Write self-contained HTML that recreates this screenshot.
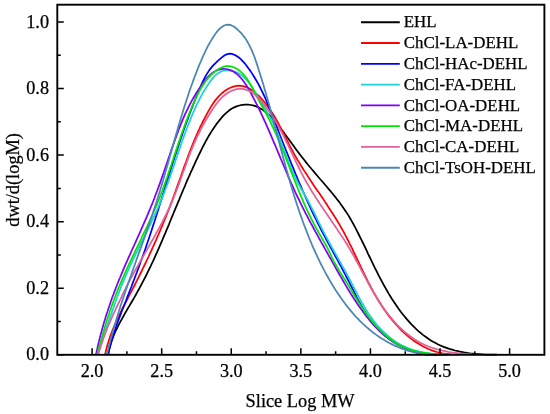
<!DOCTYPE html>
<html><head><meta charset="utf-8"><title>Slice Log MW</title>
<style>html,body{margin:0;padding:0;background:#fff}body{width:550px;height:414px;overflow:hidden}</style></head>
<body>
<svg width="550" height="414" viewBox="0 0 550 414" style="display:block">
<rect width="550" height="414" fill="#fff"/>
<g fill="none" stroke-width="1.75" stroke-linejoin="round" stroke-linecap="butt">
<path d="M108.2,354.6L108.8,351.6L109.5,348.7L110.3,345.8L111.1,342.9L112.0,340.1L113.0,337.3L114.1,334.5L115.3,331.7L116.6,329.0L117.9,326.4L119.3,323.7L120.7,321.1L122.2,318.4L123.7,315.8L125.1,313.2L126.6,310.6L128.1,308.0L129.7,305.4L131.2,302.8L132.7,300.2L134.2,297.6L135.7,295.0L137.1,292.4L138.6,289.8L140.0,287.1L141.4,284.5L142.8,281.9L144.2,279.2L145.6,276.5L146.9,273.8L148.2,271.2L149.5,268.5L150.8,265.8L152.1,263.0L153.4,260.3L154.6,257.6L155.8,254.9L157.1,252.1L158.3,249.4L159.5,246.6L160.7,243.9L161.9,241.1L163.0,238.4L164.2,235.6L165.4,232.9L166.5,230.1L167.7,227.3L168.9,224.6L170.0,221.8L171.1,219.0L172.3,216.2L173.4,213.5L174.6,210.7L175.7,207.9L176.9,205.1L178.0,202.4L179.2,199.6L180.3,196.8L181.5,194.0L182.6,191.3L183.8,188.5L185.0,185.8L186.1,183.0L187.3,180.2L188.5,177.5L189.7,174.8L190.9,172.0L192.2,169.3L193.4,166.6L194.7,163.8L195.9,161.1L197.2,158.4L198.5,155.7L199.8,153.0L201.1,150.3L202.4,147.7L203.8,145.0L205.2,142.4L206.6,139.7L208.1,137.1L209.6,134.5L211.2,131.9L212.8,129.4L214.5,126.9L216.2,124.4L218.1,122.0L220.0,119.6L222.0,117.2L224.1,114.9L226.3,112.8L228.7,110.8L231.1,109.0L233.7,107.6L236.5,106.4L239.3,105.5L242.2,104.9L245.2,104.6L248.2,104.6L251.1,105.0L254.0,105.6L256.8,106.6L259.5,107.9L262.1,109.4L264.6,111.2L267.0,113.1L269.3,115.2L271.6,117.5L273.7,119.9L275.8,122.3L277.8,124.8L279.8,127.3L281.7,129.7L283.5,132.1L285.2,134.5L287.0,136.9L288.7,139.2L290.4,141.5L292.0,143.8L293.7,146.1L295.4,148.4L297.1,150.7L298.9,153.1L300.6,155.4L302.5,157.7L304.3,160.0L306.1,162.4L308.0,164.7L309.9,167.0L311.8,169.3L313.8,171.6L315.7,173.9L317.7,176.2L319.6,178.5L321.6,180.8L323.6,183.0L325.5,185.3L327.5,187.6L329.4,189.9L331.4,192.2L333.3,194.5L335.2,196.9L337.0,199.2L338.9,201.6L340.6,204.0L342.4,206.4L344.1,208.9L345.8,211.4L347.4,213.9L349.0,216.4L350.5,219.0L352.0,221.7L353.5,224.3L354.9,226.9L356.3,229.6L357.7,232.3L359.0,235.0L360.3,237.7L361.7,240.3L363.0,243.0L364.3,245.7L365.6,248.4L366.9,251.1L368.1,253.8L369.4,256.5L370.7,259.2L372.0,261.9L373.3,264.6L374.6,267.3L375.9,269.9L377.3,272.6L378.6,275.3L380.0,277.9L381.4,280.6L382.8,283.2L384.2,285.8L385.7,288.4L387.2,291.0L388.7,293.6L390.3,296.2L391.8,298.7L393.5,301.3L395.2,303.8L396.9,306.3L398.6,308.8L400.4,311.2L402.3,313.7L404.2,316.0L406.1,318.4L408.1,320.6L410.1,322.9L412.2,325.1L414.3,327.2L416.5,329.3L418.7,331.3L420.9,333.2L423.2,335.1L425.6,336.8L428.0,338.5L430.5,340.2L433.0,341.7L435.6,343.1L438.2,344.5L440.9,345.7L443.7,346.9L446.5,347.9L449.3,348.9L452.2,349.7L455.1,350.5L458.1,351.2L461.0,351.8L464.0,352.4L467.0,352.9L470.0,353.3L473.1,353.6L476.1,353.9L479.1,354.1L482.2,354.3L485.2,354.5L488.2,354.5L491.1,354.6L494.1,354.6L497.0,354.6" stroke="#000000"/>
<path d="M105.1,354.6L105.7,351.6L106.4,348.7L107.2,345.8L108.1,342.9L109.0,340.1L109.9,337.3L110.9,334.4L112.0,331.7L113.1,328.9L114.2,326.1L115.4,323.4L116.6,320.7L117.9,318.0L119.2,315.3L120.5,312.6L121.8,309.9L123.1,307.2L124.5,304.6L125.9,301.9L127.3,299.3L128.6,296.6L130.0,293.9L131.4,291.3L132.8,288.6L134.2,286.0L135.5,283.3L136.9,280.6L138.2,277.9L139.6,275.2L140.9,272.5L142.2,269.9L143.5,267.2L144.8,264.5L146.1,261.8L147.4,259.0L148.7,256.3L149.9,253.6L151.2,250.9L152.4,248.2L153.7,245.4L154.9,242.7L156.1,240.0L157.3,237.2L158.5,234.5L159.7,231.7L160.8,229.0L162.0,226.2L163.1,223.5L164.3,220.7L165.4,218.0L166.5,215.2L167.6,212.4L168.7,209.7L169.8,206.9L170.8,204.1L171.9,201.3L172.9,198.5L173.9,195.8L174.9,193.0L175.9,190.2L176.9,187.4L177.9,184.6L178.9,181.8L179.9,179.0L180.9,176.2L181.9,173.4L182.9,170.6L183.8,167.8L184.8,165.0L185.9,162.3L186.9,159.5L187.9,156.7L189.0,153.9L190.0,151.1L191.1,148.4L192.2,145.6L193.3,142.8L194.4,140.1L195.6,137.3L196.8,134.6L198.0,131.8L199.3,129.1L200.5,126.4L201.9,123.7L203.2,121.0L204.6,118.3L206.0,115.6L207.5,112.9L209.0,110.2L210.5,107.6L212.1,105.0L213.8,102.4L215.7,99.9L217.6,97.6L219.7,95.3L221.9,93.2L224.4,91.3L227.0,89.5L229.8,88.0L232.6,86.9L235.5,86.1L238.4,85.7L241.2,85.8L243.9,86.3L246.6,87.2L249.2,88.4L251.7,90.0L254.2,91.8L256.5,93.8L258.8,95.9L261.0,98.2L263.1,100.5L265.0,102.8L266.9,105.2L268.7,107.7L270.4,110.2L272.1,112.7L273.7,115.2L275.2,117.8L276.7,120.4L278.1,123.0L279.5,125.6L280.9,128.3L282.3,130.9L283.6,133.6L284.9,136.2L286.2,138.9L287.6,141.5L288.9,144.2L290.3,146.8L291.7,149.5L293.1,152.1L294.5,154.7L296.0,157.3L297.5,159.9L299.1,162.4L300.6,165.0L302.2,167.5L303.8,170.1L305.4,172.6L307.1,175.1L308.7,177.6L310.4,180.2L312.1,182.7L313.7,185.2L315.4,187.7L317.1,190.2L318.8,192.6L320.5,195.1L322.2,197.6L323.9,200.1L325.5,202.6L327.2,205.1L328.8,207.7L330.5,210.2L332.1,212.7L333.7,215.2L335.3,217.8L336.9,220.3L338.4,222.9L339.9,225.4L341.4,228.0L342.9,230.6L344.3,233.2L345.7,235.9L347.1,238.5L348.4,241.1L349.7,243.8L351.1,246.4L352.4,249.1L353.6,251.8L354.9,254.5L356.2,257.1L357.5,259.8L358.7,262.5L360.0,265.2L361.3,267.9L362.6,270.6L363.9,273.3L365.2,275.9L366.5,278.6L367.8,281.3L369.2,284.0L370.6,286.6L372.0,289.3L373.4,291.9L374.9,294.5L376.4,297.1L378.0,299.7L379.6,302.3L381.2,304.9L382.9,307.4L384.6,309.9L386.4,312.4L388.2,314.9L390.0,317.3L391.9,319.7L393.8,322.0L395.8,324.3L397.8,326.5L399.9,328.7L402.0,330.8L404.2,332.9L406.4,334.9L408.7,336.8L411.0,338.6L413.3,340.4L415.7,342.0L418.2,343.6L420.7,345.1L423.2,346.5L425.8,347.8L428.5,349.0L431.2,350.1L434.0,351.1L436.8,352.0L439.7,352.7L442.6,353.3L445.6,353.8L448.6,354.2L451.7,354.4L454.8,354.5L458.0,354.5" stroke="#ff0000"/>
<path d="M108.0,354.6L108.6,351.7L109.3,348.7L110.1,345.8L110.9,342.9L111.7,340.1L112.6,337.2L113.5,334.4L114.4,331.5L115.4,328.7L116.4,325.9L117.4,323.0L118.4,320.2L119.5,317.4L120.5,314.6L121.6,311.8L122.7,309.0L123.8,306.2L124.9,303.5L126.0,300.7L127.0,297.9L128.1,295.1L129.2,292.3L130.3,289.5L131.4,286.7L132.4,283.9L133.5,281.1L134.6,278.3L135.6,275.5L136.7,272.7L137.7,269.9L138.8,267.1L139.8,264.2L140.8,261.4L141.9,258.6L142.9,255.8L143.9,253.0L144.9,250.2L145.9,247.3L146.8,244.5L147.8,241.7L148.8,238.8L149.7,236.0L150.6,233.2L151.6,230.3L152.5,227.5L153.4,224.6L154.4,221.8L155.3,218.9L156.2,216.1L157.1,213.2L158.0,210.4L158.9,207.5L159.8,204.6L160.7,201.8L161.6,198.9L162.5,196.1L163.3,193.2L164.2,190.4L165.1,187.5L166.0,184.6L166.9,181.8L167.8,178.9L168.7,176.1L169.6,173.2L170.5,170.3L171.4,167.5L172.3,164.6L173.2,161.8L174.1,158.9L175.0,156.1L176.0,153.2L176.9,150.4L177.8,147.5L178.8,144.7L179.7,141.8L180.7,139.0L181.7,136.1L182.6,133.3L183.6,130.5L184.6,127.6L185.6,124.8L186.6,122.0L187.7,119.2L188.7,116.3L189.7,113.5L190.8,110.7L191.9,107.9L193.0,105.1L194.1,102.3L195.2,99.5L196.3,96.7L197.5,93.9L198.6,91.2L199.8,88.4L201.0,85.6L202.2,82.9L203.5,80.2L204.9,77.5L206.3,74.9L207.9,72.4L209.5,69.9L211.3,67.6L213.2,65.4L215.3,63.3L217.5,61.2L219.8,59.2L222.2,57.1L224.7,55.3L227.3,54.1L230.1,53.7L232.9,54.2L235.6,55.4L238.2,57.0L240.5,58.9L242.6,61.1L244.7,63.3L246.6,65.7L248.4,68.2L250.2,70.6L251.8,73.1L253.5,75.7L255.0,78.2L256.5,80.8L258.0,83.4L259.4,86.0L260.7,88.7L262.1,91.3L263.3,94.0L264.6,96.7L265.8,99.4L266.9,102.2L268.1,104.9L269.2,107.7L270.3,110.4L271.4,113.2L272.5,116.0L273.6,118.8L274.7,121.5L275.8,124.3L276.9,127.1L278.0,129.9L279.1,132.7L280.1,135.5L281.2,138.3L282.3,141.1L283.4,143.8L284.5,146.6L285.6,149.4L286.7,152.2L287.9,155.0L289.0,157.8L290.1,160.6L291.2,163.4L292.4,166.1L293.5,168.9L294.6,171.7L295.8,174.5L296.9,177.2L298.1,180.0L299.3,182.8L300.5,185.5L301.7,188.3L302.8,191.0L304.1,193.8L305.3,196.5L306.5,199.2L307.7,202.0L309.0,204.7L310.2,207.4L311.5,210.1L312.8,212.8L314.1,215.5L315.4,218.2L316.7,220.9L318.0,223.6L319.4,226.2L320.7,228.9L322.1,231.6L323.5,234.2L324.9,236.8L326.3,239.5L327.7,242.1L329.1,244.7L330.5,247.3L332.0,249.9L333.4,252.6L334.8,255.2L336.3,257.8L337.7,260.4L339.1,263.1L340.6,265.7L342.0,268.3L343.4,271.0L344.8,273.6L346.2,276.3L347.5,279.0L348.9,281.6L350.3,284.3L351.6,287.0L353.0,289.7L354.3,292.4L355.7,295.1L357.0,297.8L358.4,300.5L359.9,303.1L361.3,305.7L362.8,308.3L364.4,310.9L366.0,313.4L367.6,315.9L369.3,318.3L371.1,320.7L372.9,323.1L374.8,325.3L376.8,327.6L378.9,329.7L381.0,331.8L383.2,333.8L385.5,335.8L387.9,337.7L390.2,339.5L392.7,341.2L395.2,342.8L397.8,344.4L400.4,345.8L403.1,347.2L405.8,348.5L408.5,349.7L411.3,350.8L414.1,351.7L417.0,352.6L419.9,353.4L422.8,354.0L425.7,354.6L428.7,354.6L431.7,354.6L434.7,354.6L437.8,354.6L440.8,354.6L443.9,354.6L446.9,354.6L450.0,354.5" stroke="#0000ff"/>
<path d="M97.7,354.6L98.4,351.7L99.1,348.8L99.9,345.9L100.8,343.0L101.7,340.2L102.7,337.3L103.7,334.5L104.8,331.7L105.8,328.9L106.9,326.1L107.9,323.3L109.0,320.4L110.0,317.6L111.0,314.8L112.0,312.0L113.0,309.1L114.0,306.3L114.9,303.5L115.9,300.7L116.9,297.8L118.0,295.0L119.0,292.2L120.1,289.4L121.2,286.6L122.3,283.9L123.4,281.1L124.6,278.3L125.8,275.6L127.0,272.9L128.2,270.1L129.5,267.4L130.8,264.7L132.0,262.0L133.3,259.2L134.6,256.5L135.9,253.8L137.3,251.1L138.6,248.4L139.9,245.7L141.2,243.0L142.6,240.4L143.9,237.7L145.2,235.0L146.5,232.3L147.9,229.6L149.2,226.9L150.5,224.1L151.7,221.4L153.0,218.7L154.3,216.0L155.5,213.3L156.8,210.5L158.0,207.8L159.2,205.0L160.3,202.3L161.5,199.5L162.6,196.7L163.7,193.9L164.8,191.1L165.8,188.3L166.9,185.5L167.9,182.7L168.9,179.9L169.9,177.1L170.9,174.2L171.9,171.4L172.8,168.6L173.8,165.7L174.8,162.9L175.7,160.0L176.7,157.2L177.6,154.4L178.6,151.5L179.6,148.7L180.5,145.9L181.5,143.0L182.5,140.2L183.5,137.4L184.5,134.6L185.6,131.8L186.6,129.0L187.7,126.2L188.8,123.4L189.9,120.6L191.0,117.9L192.1,115.1L193.3,112.4L194.5,109.7L195.8,106.9L197.0,104.2L198.3,101.6L199.7,98.9L201.1,96.2L202.5,93.6L204.0,91.0L205.6,88.4L207.3,85.8L209.0,83.2L210.9,80.6L212.9,78.1L214.9,75.8L217.2,73.8L219.7,72.2L222.3,71.0L225.1,70.4L228.1,70.3L231.0,70.6L233.9,71.3L236.6,72.3L239.3,73.7L241.7,75.4L244.0,77.4L246.2,79.6L248.2,82.0L250.2,84.5L252.0,87.2L253.8,89.9L255.5,92.7L257.1,95.5L258.7,98.2L260.3,100.9L261.8,103.4L263.3,105.9L264.8,108.4L266.3,110.8L267.7,113.2L269.0,115.6L270.4,118.0L271.7,120.4L273.0,122.9L274.2,125.5L275.4,128.1L276.5,130.8L277.7,133.5L278.8,136.3L279.9,139.1L281.0,141.9L282.1,144.7L283.2,147.6L284.2,150.5L285.3,153.4L286.4,156.3L287.5,159.2L288.6,162.0L289.8,164.9L290.9,167.7L292.1,170.6L293.3,173.3L294.6,176.1L295.9,178.8L297.2,181.5L298.6,184.1L300.0,186.7L301.4,189.2L302.9,191.8L304.3,194.3L305.8,196.8L307.2,199.4L308.6,202.0L310.0,204.6L311.4,207.3L312.7,210.0L314.1,212.6L315.4,215.3L316.7,218.1L318.0,220.8L319.3,223.5L320.7,226.2L322.0,228.9L323.4,231.6L324.8,234.2L326.2,236.9L327.6,239.5L329.0,242.2L330.5,244.8L331.9,247.4L333.4,250.0L334.8,252.6L336.3,255.2L337.7,257.8L339.2,260.4L340.7,263.0L342.1,265.6L343.6,268.2L345.0,270.9L346.4,273.5L347.9,276.1L349.3,278.7L350.7,281.4L352.0,284.0L353.4,286.6L354.8,289.3L356.2,291.9L357.5,294.6L358.9,297.2L360.3,299.8L361.8,302.5L363.3,305.0L364.8,307.6L366.3,310.2L367.9,312.7L369.6,315.2L371.3,317.6L373.0,320.0L374.9,322.4L376.8,324.8L378.8,327.0L380.9,329.3L383.0,331.4L385.2,333.5L387.5,335.5L389.8,337.5L392.2,339.3L394.6,341.0L397.2,342.7L399.7,344.2L402.4,345.6L405.1,346.9L407.8,348.1L410.6,349.1L413.4,350.0L416.3,350.8L419.2,351.6L422.1,352.2L425.0,352.7L428.0,353.1L431.0,353.5L434.0,353.8L437.0,354.1L440.0,354.3L443.0,354.4L446.0,354.5" stroke="#1fd0d8"/>
<path d="M96.0,354.6L96.6,351.7L97.3,348.7L97.9,345.8L98.6,342.9L99.3,340.0L100.0,337.1L100.8,334.2L101.6,331.3L102.4,328.4L103.2,325.5L104.0,322.6L104.9,319.8L105.7,316.9L106.6,314.0L107.6,311.2L108.5,308.3L109.5,305.5L110.4,302.7L111.4,299.8L112.4,297.0L113.5,294.2L114.5,291.4L115.6,288.6L116.7,285.8L117.8,283.0L118.9,280.2L120.1,277.5L121.2,274.7L122.4,271.9L123.5,269.2L124.7,266.4L125.9,263.7L127.1,261.0L128.3,258.2L129.6,255.5L130.8,252.7L132.0,250.0L133.2,247.3L134.5,244.5L135.7,241.8L136.9,239.1L138.1,236.3L139.4,233.6L140.6,230.9L141.8,228.1L143.0,225.4L144.2,222.6L145.4,219.9L146.6,217.1L147.8,214.4L148.9,211.6L150.1,208.8L151.2,206.0L152.4,203.3L153.5,200.5L154.6,197.7L155.6,194.8L156.7,192.0L157.7,189.2L158.8,186.4L159.8,183.6L160.8,180.7L161.8,177.9L162.8,175.0L163.8,172.2L164.8,169.4L165.7,166.5L166.7,163.7L167.7,160.9L168.6,158.0L169.6,155.2L170.6,152.4L171.5,149.6L172.5,146.8L173.5,144.0L174.5,141.2L175.5,138.4L176.5,135.6L177.5,132.9L178.5,130.1L179.6,127.4L180.7,124.6L181.8,121.9L182.9,119.2L184.1,116.4L185.3,113.7L186.6,111.1L187.9,108.4L189.2,105.7L190.6,103.1L192.0,100.4L193.5,97.8L195.0,95.2L196.6,92.5L198.3,90.0L200.0,87.4L201.8,84.8L203.6,82.2L205.6,79.8L207.6,77.4L209.8,75.2L212.1,73.2L214.6,71.5L217.3,70.2L220.1,69.3L223.0,68.9L225.9,69.0L228.7,69.6L231.5,70.6L234.1,72.0L236.6,73.7L238.9,75.8L241.0,78.0L243.0,80.5L244.8,83.0L246.5,85.5L248.1,88.1L249.6,90.7L251.0,93.3L252.4,96.0L253.8,98.6L255.2,101.3L256.5,103.9L257.9,106.6L259.2,109.3L260.5,112.0L261.7,114.7L263.0,117.4L264.2,120.2L265.5,122.9L266.7,125.6L267.9,128.3L269.1,131.1L270.3,133.8L271.5,136.6L272.6,139.3L273.8,142.1L275.0,144.8L276.1,147.6L277.3,150.3L278.4,153.1L279.6,155.9L280.7,158.6L281.9,161.4L283.1,164.1L284.2,166.9L285.4,169.6L286.6,172.4L287.7,175.1L288.9,177.9L290.1,180.6L291.3,183.4L292.6,186.1L293.8,188.8L295.0,191.6L296.3,194.3L297.6,197.0L298.9,199.7L300.2,202.4L301.5,205.1L302.8,207.7L304.2,210.4L305.5,213.1L306.9,215.7L308.3,218.4L309.7,221.1L311.1,223.7L312.6,226.3L314.0,229.0L315.4,231.6L316.9,234.2L318.3,236.8L319.8,239.5L321.2,242.1L322.7,244.7L324.2,247.3L325.6,249.9L327.1,252.5L328.5,255.1L330.0,257.7L331.5,260.3L332.9,262.9L334.4,265.5L335.8,268.1L337.3,270.7L338.7,273.3L340.2,275.9L341.7,278.4L343.2,281.0L344.7,283.6L346.2,286.1L347.7,288.7L349.3,291.2L350.8,293.7L352.4,296.2L354.0,298.7L355.7,301.2L357.3,303.7L359.0,306.2L360.7,308.6L362.5,311.1L364.3,313.5L366.1,315.9L368.0,318.3L369.9,320.6L371.8,322.9L373.8,325.1L375.9,327.3L378.0,329.5L380.1,331.5L382.3,333.6L384.6,335.5L386.9,337.4L389.3,339.2L391.7,340.9L394.2,342.5L396.8,344.0L399.4,345.5L402.1,346.8L404.8,348.0L407.5,349.2L410.3,350.2L413.2,351.2L416.0,352.0L418.9,352.7L421.9,353.3L424.8,353.8L427.8,354.2L430.9,354.5L433.9,354.6L436.9,354.6L440.0,354.5" stroke="#8000ff"/>
<path d="M97.1,354.6L97.9,351.7L98.6,348.8L99.4,345.9L100.2,343.0L101.0,340.2L101.8,337.3L102.7,334.4L103.5,331.5L104.4,328.7L105.2,325.8L106.1,322.9L107.0,320.1L107.9,317.2L108.9,314.4L109.8,311.6L110.8,308.7L111.8,305.9L112.8,303.1L113.8,300.3L114.8,297.5L115.9,294.7L117.0,291.9L118.1,289.2L119.2,286.4L120.4,283.6L121.6,280.9L122.8,278.1L124.0,275.4L125.2,272.7L126.4,269.9L127.7,267.2L128.9,264.5L130.2,261.8L131.5,259.1L132.8,256.4L134.1,253.6L135.4,250.9L136.7,248.2L138.0,245.5L139.3,242.8L140.6,240.1L141.8,237.4L143.1,234.7L144.4,232.0L145.7,229.3L147.0,226.6L148.2,223.9L149.5,221.2L150.7,218.5L152.0,215.8L153.2,213.0L154.4,210.3L155.5,207.6L156.7,204.8L157.8,202.1L158.9,199.3L160.0,196.6L161.1,193.8L162.2,191.0L163.2,188.2L164.2,185.4L165.2,182.6L166.2,179.8L167.2,177.0L168.1,174.2L169.1,171.4L170.0,168.6L171.0,165.8L171.9,162.9L172.9,160.1L173.8,157.3L174.7,154.5L175.7,151.6L176.6,148.8L177.6,145.9L178.5,143.1L179.5,140.3L180.5,137.4L181.4,134.6L182.4,131.7L183.5,128.9L184.5,126.1L185.5,123.2L186.6,120.4L187.7,117.5L188.8,114.7L189.9,111.9L191.1,109.0L192.3,106.2L193.5,103.4L194.7,100.6L196.0,97.8L197.3,95.0L198.7,92.3L200.2,89.6L201.7,87.0L203.4,84.4L205.1,82.0L206.9,79.6L208.8,77.3L210.9,75.2L213.1,73.2L215.4,71.3L217.9,69.5L220.5,68.0L223.3,66.8L226.1,66.2L229.0,66.1L232.0,66.7L234.8,67.8L237.5,69.3L240.0,71.1L242.2,73.1L244.2,75.3L246.1,77.6L247.8,80.2L249.5,82.8L251.0,85.5L252.5,88.2L253.9,91.0L255.3,93.8L256.7,96.5L258.1,99.1L259.5,101.7L261.0,104.3L262.4,106.8L263.8,109.4L265.2,111.9L266.6,114.5L267.9,117.1L269.3,119.7L270.6,122.3L271.8,125.0L273.1,127.6L274.3,130.3L275.5,133.0L276.7,135.7L277.9,138.5L279.1,141.2L280.2,143.9L281.3,146.7L282.5,149.5L283.6,152.3L284.7,155.0L285.8,157.8L286.9,160.6L288.0,163.4L289.1,166.2L290.2,169.1L291.3,171.9L292.4,174.7L293.4,177.5L294.6,180.3L295.7,183.1L296.8,185.9L297.9,188.7L299.0,191.5L300.2,194.3L301.4,197.1L302.5,199.8L303.7,202.6L304.9,205.3L306.2,208.1L307.4,210.8L308.7,213.5L310.0,216.2L311.3,218.9L312.7,221.5L314.0,224.2L315.4,226.8L316.9,229.4L318.3,232.0L319.8,234.6L321.3,237.1L322.8,239.7L324.3,242.3L325.7,244.8L327.1,247.4L328.5,250.0L329.7,252.7L331.0,255.4L332.2,258.0L333.5,260.7L334.9,263.3L336.4,265.9L337.9,268.5L339.4,271.1L341.0,273.6L342.6,276.2L344.2,278.7L345.8,281.3L347.3,283.8L348.9,286.3L350.4,288.9L352.0,291.4L353.5,294.0L355.0,296.5L356.6,299.0L358.1,301.5L359.7,304.0L361.3,306.5L363.0,308.9L364.6,311.4L366.3,313.8L368.1,316.2L369.9,318.5L371.8,320.9L373.7,323.2L375.6,325.5L377.7,327.7L379.8,329.9L382.0,332.0L384.2,334.1L386.5,336.1L388.8,338.0L391.2,339.8L393.7,341.6L396.2,343.2L398.7,344.7L401.4,346.1L404.1,347.3L406.8,348.4L409.6,349.4L412.4,350.3L415.3,351.1L418.2,351.7L421.1,352.3L424.1,352.8L427.0,353.2L430.0,353.5L433.0,353.8L436.0,354.0L439.0,354.2L442.0,354.4L445.0,354.5" stroke="#00e600"/>
<path d="M98.2,354.6L99.1,351.7L99.9,348.9L100.9,346.0L101.8,343.2L102.8,340.3L103.8,337.5L104.8,334.7L105.8,331.9L106.9,329.1L108.0,326.3L109.2,323.6L110.4,320.8L111.6,318.1L112.8,315.3L114.1,312.6L115.4,309.9L116.6,307.2L117.9,304.5L119.2,301.8L120.5,299.1L121.8,296.4L123.0,293.7L124.4,291.0L125.7,288.3L127.0,285.6L128.4,283.0L129.8,280.3L131.2,277.7L132.6,275.1L134.1,272.4L135.5,269.8L137.0,267.2L138.5,264.6L139.9,262.0L141.4,259.4L142.9,256.8L144.4,254.2L145.9,251.6L147.4,249.0L148.9,246.4L150.3,243.8L151.8,241.2L153.3,238.6L154.8,236.0L156.2,233.4L157.6,230.7L159.1,228.1L160.5,225.5L161.9,222.8L163.2,220.1L164.6,217.5L165.9,214.8L167.2,212.1L168.5,209.3L169.8,206.6L171.0,203.9L172.2,201.1L173.4,198.3L174.5,195.5L175.6,192.7L176.7,189.9L177.8,187.0L178.9,184.2L179.9,181.4L180.9,178.5L181.9,175.7L182.9,172.8L184.0,170.0L185.0,167.2L186.0,164.3L187.0,161.5L188.0,158.7L189.1,156.0L190.1,153.2L191.2,150.5L192.3,147.8L193.4,145.1L194.6,142.4L195.7,139.8L196.9,137.2L198.2,134.6L199.5,132.0L200.8,129.4L202.1,126.8L203.5,124.2L205.0,121.6L206.5,119.0L208.0,116.5L209.6,113.9L211.3,111.3L213.0,108.7L214.8,106.1L216.7,103.5L218.7,101.0L220.8,98.7L223.0,96.5L225.4,94.5L228.0,92.7L230.7,91.2L233.5,90.1L236.4,89.2L239.3,88.8L242.1,88.9L245.0,89.4L247.8,90.3L250.5,91.6L253.0,93.2L255.3,95.1L257.6,97.2L259.7,99.4L261.8,101.7L263.7,104.1L265.6,106.6L267.4,109.0L269.2,111.5L270.9,114.0L272.6,116.5L274.2,119.1L275.7,121.6L277.3,124.2L278.7,126.8L280.2,129.5L281.6,132.1L283.0,134.7L284.3,137.4L285.6,140.1L286.9,142.8L288.2,145.4L289.5,148.1L290.8,150.8L292.1,153.5L293.3,156.2L294.6,158.9L295.9,161.6L297.2,164.3L298.5,167.0L299.8,169.6L301.1,172.3L302.5,174.9L303.9,177.6L305.3,180.2L306.8,182.8L308.3,185.4L309.8,187.9L311.3,190.5L312.9,193.0L314.5,195.5L316.1,198.1L317.7,200.6L319.4,203.1L321.0,205.6L322.7,208.1L324.4,210.6L326.1,213.0L327.8,215.5L329.5,218.0L331.2,220.5L332.9,223.0L334.6,225.4L336.3,227.9L337.9,230.4L339.6,232.9L341.2,235.4L342.9,237.9L344.5,240.4L346.1,243.0L347.7,245.5L349.2,248.1L350.7,250.6L352.2,253.2L353.7,255.8L355.1,258.4L356.5,261.0L358.0,263.6L359.3,266.2L360.7,268.9L362.1,271.5L363.5,274.1L364.9,276.8L366.3,279.4L367.7,282.0L369.1,284.6L370.6,287.3L372.0,289.9L373.5,292.5L375.1,295.0L376.6,297.6L378.2,300.2L379.8,302.7L381.5,305.2L383.2,307.7L385.0,310.2L386.8,312.6L388.7,315.0L390.6,317.3L392.5,319.6L394.5,321.9L396.5,324.1L398.6,326.3L400.8,328.3L403.0,330.4L405.2,332.3L407.5,334.2L409.9,336.0L412.3,337.7L414.7,339.4L417.2,340.9L419.8,342.4L422.4,343.8L425.1,345.0L427.9,346.2L430.7,347.2L433.5,348.2L436.4,349.1L439.3,349.9L442.2,350.6L445.2,351.2L448.2,351.8L451.2,352.3L454.2,352.7L457.2,353.1L460.2,353.5L463.2,353.7L466.2,354.0L469.2,354.2L472.1,354.4L475.0,354.5" stroke="#e0609a"/>
<path d="M106.9,354.6L107.6,351.7L108.3,348.8L109.0,345.8L109.8,342.9L110.5,340.0L111.3,337.1L112.1,334.3L112.9,331.4L113.7,328.5L114.5,325.6L115.4,322.7L116.2,319.9L117.1,317.0L118.0,314.2L118.9,311.3L119.8,308.5L120.7,305.6L121.6,302.8L122.6,299.9L123.5,297.1L124.5,294.2L125.4,291.4L126.4,288.6L127.4,285.8L128.3,282.9L129.3,280.1L130.3,277.3L131.3,274.5L132.3,271.6L133.3,268.8L134.3,266.0L135.3,263.2L136.3,260.3L137.3,257.5L138.3,254.7L139.3,251.9L140.4,249.1L141.4,246.2L142.4,243.4L143.4,240.6L144.4,237.8L145.4,234.9L146.4,232.1L147.3,229.3L148.3,226.4L149.3,223.6L150.3,220.8L151.2,217.9L152.2,215.1L153.1,212.2L154.1,209.4L155.0,206.5L155.9,203.7L156.9,200.8L157.8,197.9L158.6,195.1L159.5,192.2L160.4,189.3L161.3,186.4L162.1,183.5L163.0,180.6L163.8,177.8L164.6,174.9L165.5,172.0L166.3,169.1L167.1,166.2L168.0,163.3L168.8,160.4L169.6,157.5L170.4,154.6L171.2,151.7L172.0,148.8L172.8,145.9L173.7,143.0L174.5,140.1L175.3,137.2L176.1,134.3L177.0,131.5L177.8,128.6L178.6,125.7L179.5,122.8L180.3,120.0L181.2,117.1L182.1,114.2L182.9,111.4L183.8,108.5L184.7,105.7L185.6,102.9L186.5,100.0L187.5,97.2L188.4,94.4L189.3,91.6L190.3,88.8L191.3,86.0L192.3,83.2L193.3,80.4L194.3,77.7L195.4,74.9L196.4,72.2L197.5,69.4L198.6,66.7L199.7,64.0L200.9,61.3L202.0,58.6L203.2,55.9L204.5,53.2L205.7,50.5L207.0,47.9L208.4,45.2L209.9,42.6L211.5,39.9L213.1,37.2L214.9,34.5L216.8,31.9L218.9,29.5L221.2,27.4L223.7,25.8L226.3,24.8L228.9,24.6L231.5,25.4L234.1,26.8L236.6,28.7L238.8,30.8L241.0,32.9L242.9,35.2L244.7,37.6L246.4,40.1L247.9,42.7L249.3,45.3L250.7,48.0L251.9,50.7L253.1,53.5L254.2,56.3L255.2,59.1L256.2,62.0L257.2,64.9L258.1,67.8L259.0,70.7L259.9,73.5L260.8,76.4L261.7,79.3L262.6,82.2L263.5,85.1L264.3,88.0L265.2,90.9L266.0,93.8L266.8,96.7L267.6,99.5L268.5,102.4L269.3,105.3L270.1,108.2L270.8,111.1L271.6,114.0L272.4,116.9L273.2,119.8L273.9,122.7L274.7,125.6L275.5,128.4L276.2,131.3L277.0,134.2L277.8,137.1L278.5,140.0L279.3,142.8L280.0,145.7L280.8,148.6L281.6,151.5L282.3,154.4L283.1,157.2L283.9,160.1L284.7,163.0L285.5,165.8L286.3,168.7L287.1,171.6L287.9,174.4L288.7,177.3L289.5,180.1L290.3,183.0L291.2,185.8L292.0,188.7L292.9,191.5L293.7,194.3L294.6,197.2L295.5,200.0L296.4,202.8L297.4,205.7L298.3,208.5L299.2,211.3L300.2,214.1L301.2,216.9L302.2,219.7L303.2,222.5L304.2,225.3L305.3,228.1L306.4,230.9L307.5,233.7L308.6,236.5L309.7,239.3L310.9,242.0L312.0,244.8L313.2,247.6L314.5,250.3L315.7,253.1L317.0,255.8L318.3,258.6L319.6,261.3L320.9,264.0L322.3,266.7L323.7,269.4L325.1,272.1L326.6,274.8L328.1,277.5L329.6,280.1L331.1,282.8L332.7,285.4L334.3,288.0L335.9,290.6L337.6,293.1L339.3,295.6L341.0,298.1L342.8,300.6L344.6,303.0L346.4,305.4L348.3,307.7L350.2,310.1L352.1,312.4L354.0,314.6L356.0,316.8L358.1,318.9L360.1,321.1L362.2,323.1L364.4,325.1L366.6,327.1L368.8,329.0L371.0,330.9L373.3,332.7L375.7,334.4L378.0,336.1L380.4,337.7L382.9,339.3L385.4,340.8L387.9,342.2L390.5,343.6L393.1,344.9L395.8,346.1L398.5,347.3L401.2,348.4L404.0,349.4L406.9,350.3L409.8,351.2L412.7,351.9L415.7,352.6L418.7,353.2L421.7,353.7L424.8,354.2L428.0,354.5" stroke="#4a86b4"/>
</g>
<path d="M92.09,354.8v-6.5M161.68,354.8v-6.5M231.26,354.8v-6.5M300.85,354.8v-6.5M370.44,354.8v-6.5M440.02,354.8v-6.5M509.61,354.8v-6.5M126.89,354.8v-3.5M196.47,354.8v-3.5M266.06,354.8v-3.5M335.64,354.8v-3.5M405.23,354.8v-3.5M474.81,354.8v-3.5M57.3,354.80h6.5M57.3,288.24h6.5M57.3,221.68h6.5M57.3,155.12h6.5M57.3,88.56h6.5M57.3,22.00h6.5M57.3,321.52h3.5M57.3,254.96h3.5M57.3,188.40h3.5M57.3,121.84h3.5M57.3,55.28h3.5" stroke="#000" stroke-width="1.5" fill="none"/>
<rect x="57.3" y="4.7" width="487.09999999999997" height="350.1" fill="none" stroke="#000" stroke-width="1.9"/>
<g font-family="'Liberation Serif', 'Times New Roman', serif" font-size="18.2" fill="#000" stroke="#000" stroke-width="0.25">
<text x="92.1" y="377.2" text-anchor="middle">2.0</text>
<text x="161.7" y="377.2" text-anchor="middle">2.5</text>
<text x="231.3" y="377.2" text-anchor="middle">3.0</text>
<text x="300.8" y="377.2" text-anchor="middle">3.5</text>
<text x="370.4" y="377.2" text-anchor="middle">4.0</text>
<text x="440.0" y="377.2" text-anchor="middle">4.5</text>
<text x="509.6" y="377.2" text-anchor="middle">5.0</text>
<text x="49" y="360.3" text-anchor="end">0.0</text>
<text x="49" y="293.7" text-anchor="end">0.2</text>
<text x="49" y="227.2" text-anchor="end">0.4</text>
<text x="49" y="160.6" text-anchor="end">0.6</text>
<text x="49" y="94.1" text-anchor="end">0.8</text>
<text x="49" y="27.5" text-anchor="end">1.0</text>
<text x="300.1" y="406.5" text-anchor="middle" font-size="18.35">Slice Log MW</text>
<text transform="translate(18.9,179.9) rotate(-90)" text-anchor="middle" font-size="18.35">dwt/d(logM)</text>
</g>
<g font-family="'Liberation Serif', 'Times New Roman', serif" font-size="16.9" fill="#000" stroke="#000" stroke-width="0.25">
<path d="M361,22.25H399.8" stroke="#000000" stroke-width="1.85" fill="none"/>
<text x="403.8" y="27.4">EHL</text>
<path d="M361,43.03H399.8" stroke="#ff0000" stroke-width="1.85" fill="none"/>
<text x="403.8" y="48.1">ChCl-LA-DEHL</text>
<path d="M361,63.81H399.8" stroke="#0000ff" stroke-width="1.85" fill="none"/>
<text x="403.8" y="68.9">ChCl-HAc-DEHL</text>
<path d="M361,84.59H399.8" stroke="#1fd0d8" stroke-width="1.85" fill="none"/>
<text x="403.8" y="89.7">ChCl-FA-DEHL</text>
<path d="M361,105.37H399.8" stroke="#8000ff" stroke-width="1.85" fill="none"/>
<text x="403.8" y="110.5">ChCl-OA-DEHL</text>
<path d="M361,126.15H399.8" stroke="#00e600" stroke-width="1.85" fill="none"/>
<text x="403.8" y="131.2">ChCl-MA-DEHL</text>
<path d="M361,146.93H399.8" stroke="#e0609a" stroke-width="1.85" fill="none"/>
<text x="403.8" y="152.0">ChCl-CA-DEHL</text>
<path d="M361,167.71H399.8" stroke="#4a86b4" stroke-width="1.85" fill="none"/>
<text x="403.8" y="172.8">ChCl-TsOH-DEHL</text>
</g>
</svg>
</body></html>
